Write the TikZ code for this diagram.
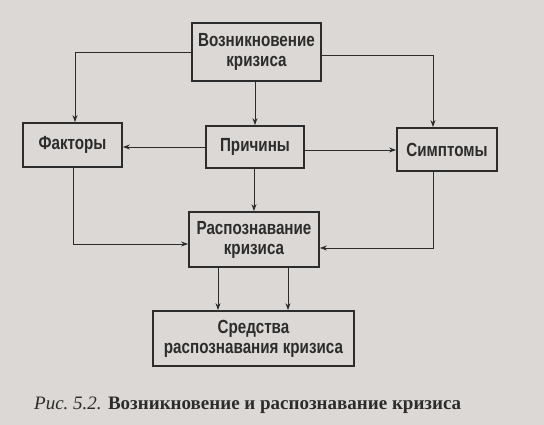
\documentclass[tikz,border=0pt]{standalone}
\usepackage{fontspec}
\setmainfont{Liberation Sans}
\newfontfamily\boxfont{Liberation Sans}[FakeStretch=0.8]
\newfontfamily\capfont{Liberation Serif}
\usetikzlibrary{arrows.meta}
\definecolor{paper}{HTML}{DCD8D5}
\definecolor{ink}{HTML}{2C2C2C}
\tikzset{
  box/.style={draw=ink, line width=1.8pt, fill=paper, text=ink, align=center,
    font=\boxfont\fontsize{19}{20}\selectfont\bfseries, inner sep=0pt},
  conn/.style={draw=ink, line width=0.9pt, -{Stealth[length=7pt,width=5pt]}}
}
\begin{document}
\begin{tikzpicture}[x=1pt,y=-1pt]
\fill[paper] (0,0) rectangle (544,425);
\useasboundingbox (0,0) rectangle (544,425);
\node[box, minimum width=129pt, minimum height=58pt] (voz) at (256.5,52) {Возникновение\\кризиса};
\node[box, minimum width=99pt, minimum height=44pt] (fak) at (72.5,145) {Факторы};
\node[box, minimum width=98pt, minimum height=42pt] (pri) at (255,147) {Причины};
\node[box, minimum width=100pt, minimum height=43pt] (sim) at (447,149.5) {Симптомы};
\node[box, minimum width=130pt, minimum height=55pt] (ras) at (254,239.5) {Распознавание\\кризиса};
\node[box, minimum width=201pt, minimum height=55pt] (sre) at (253.5,338.5) {Средства\\распознавания кризиса};
\coordinate (c1) at (75,52);
\coordinate (c2) at (433,55);
\coordinate (c3) at (73,244);
\coordinate (c4) at (433,248);
\coordinate (c5) at (255,0);
\coordinate (c6) at (254,0);
\coordinate (c7) at (218,0);
\coordinate (c8) at (288,0);
\draw[conn] (voz.west |- c1) -- (c1) -- (c1 |- fak.north);
\draw[conn] (voz.east |- c2) -- (c2) -- (c2 |- sim.north);
\draw[conn] (c5 |- voz.south) -- (c5 |- pri.north);
\draw[conn] (pri.west |- 0,147) -- (fak.east |- 0,147);
\draw[conn] (pri.east |- 0,150) -- (sim.west |- 0,150);
\draw[conn] (c6 |- pri.south) -- (c6 |- ras.north);
\draw[conn] (c3 |- fak.south) -- (c3) -- (ras.west |- c3);
\draw[conn] (c4 |- sim.south) -- (c4) -- (ras.east |- c4);
\draw[conn] (c7 |- ras.south) -- (c7 |- sre.north);
\draw[conn] (c8 |- ras.south) -- (c8 |- sre.north);
\node[anchor=base west, text=ink, font=\capfont\fontsize{19}{22}\selectfont, inner sep=0pt] (cap) at (34,409)
  {\textit{Рис.\ 5.2.} \textbf{Возникновение и распознавание кризиса}};
\end{tikzpicture}
\end{document}
